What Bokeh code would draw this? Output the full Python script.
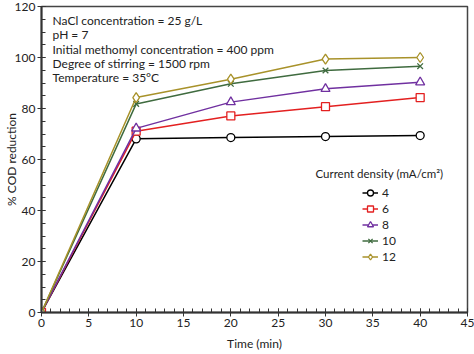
from bokeh.plotting import figure
from bokeh.models import Range1d, SingleIntervalTicker, Legend, LegendItem, Label
from bokeh.embed import file_html
from bokeh.resources import INLINE

time_min = [0, 10, 20, 30, 40]
cd_4 = [0, 68.1, 68.6, 69.0, 69.4]
cd_6 = [0, 71.1, 77.1, 80.7, 84.3]
cd_8 = [0, 72.2, 82.5, 87.7, 90.3]
cd_10 = [0, 81.8, 89.7, 94.9, 96.6]
cd_12 = [0, 84.3, 91.5, 99.4, 100.0]
series_names = ["4", "6", "8", "10", "12"]
legend_title = "Current density (mA/cm\u00b2)"
conditions = [
    "NaCl concentration = 25 g/L",
    "pH = 7",
    "Initial methomyl concentration = 400 ppm",
    "Degree of stirring = 1500 rpm",
    "Temperature = 35\u00b0C",
]
x_title = "Time (min)"
y_title = "% COD reduction"

FONT = "Lato"
TXT = "#222222"

p = figure(width=474, height=354, output_backend="svg", toolbar_location=None,
           x_range=Range1d(0, 45), y_range=Range1d(0, 120),
           min_border_left=41, min_border_right=7, min_border_top=6, min_border_bottom=42)
p.xgrid.visible = False
p.ygrid.visible = False
p.outline_line_color = "#444444"
p.outline_line_width = 1.5
p.background_fill_color = "white"
p.border_fill_color = "white"

styles = [
    (cd_4, "#000000", "circle", 8),
    (cd_6, "#e32020", "square", 8),
    (cd_8, "#7030a0", "triangle", 9),
    (cd_10, "#3f6b3f", "x", 8),
    (cd_12, "#a8922a", "diamond", 10),
]
items = []
for name, (vals, col, mk, sz) in zip(series_names, styles):
    ln = p.line(time_min, vals, line_color=col, line_width=1.5)
    sc = p.scatter(time_min, vals, marker=mk, size=sz, line_color=col,
                   fill_color="white", line_width=1.3)
    items.append(LegendItem(label=name, renderers=[ln, sc]))

leg = Legend(items=items, location=(321, 48), padding=0, margin=0, spacing=1,
             glyph_width=16, glyph_height=15, label_height=15, label_standoff=4,
             border_line_color=None, background_fill_alpha=0,
             label_text_font=FONT, label_text_font_size="12px", label_text_color=TXT)
p.add_layout(leg, "center")

p.add_layout(Label(x=35.7, y=54.5, text=legend_title, text_align="center",
                   text_baseline="middle", text_font=FONT, text_font_size="11.5px",
                   text_color=TXT))

for i, t in enumerate(conditions):
    p.add_layout(Label(x=1.17, y=114.5 - i * 5.6, text=t, text_align="left",
                       text_baseline="middle", text_font=FONT, text_font_size="12px",
                       text_color=TXT))

p.xaxis.ticker = SingleIntervalTicker(interval=5, num_minor_ticks=5)
p.yaxis.ticker = SingleIntervalTicker(interval=20, num_minor_ticks=4)
p.xaxis.axis_label = x_title
p.yaxis.axis_label = y_title
for ax in (p.xaxis[0], p.yaxis[0]):
    ax.axis_line_color = "#333333"
    ax.axis_line_width = 2
    ax.major_tick_line_color = "#333333"
    ax.minor_tick_line_color = "#333333"
    ax.major_tick_in = 4
    ax.major_tick_out = 4
    ax.minor_tick_in = 4
    ax.minor_tick_out = 0
    ax.major_label_text_font = FONT
    ax.major_label_text_font_size = "12px"
    ax.major_label_text_color = TXT
    ax.axis_label_text_font = FONT
    ax.axis_label_text_font_size = "12px"
    ax.axis_label_text_font_style = "normal"
    ax.axis_label_text_color = TXT
    ax.major_label_standoff = 2
p.xaxis.axis_label_standoff = 6
p.yaxis.axis_label_standoff = -7

open("out.html", "w").write(file_html(p, INLINE))
